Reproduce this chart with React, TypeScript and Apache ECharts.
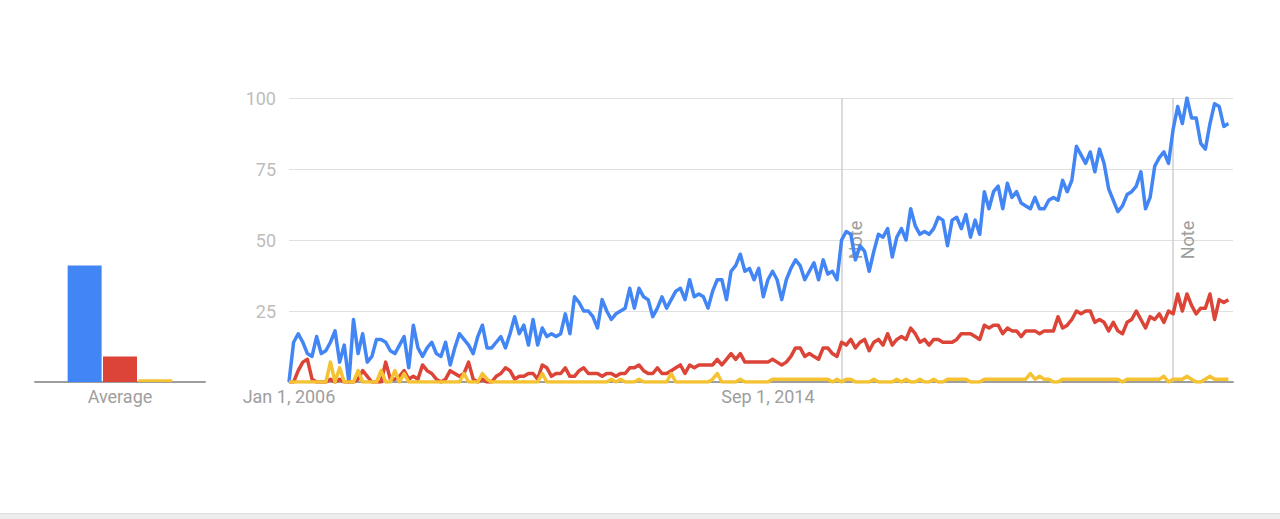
import React, { useEffect, useRef } from 'react';
import * as echarts from 'echarts';

// monthly interest, Jan 2006 .. Jan 2023 (index = months since Jan 2006)
const blueSeries = [
  0, 14, 17, 14, 10, 9, 16, 10, 11, 14,
  18, 7, 13, 0, 22, 10, 17, 7, 9, 15,
  15, 14, 11, 10, 13, 16, 5, 20, 12, 9,
  12, 14, 10, 9, 14, 6, 12, 17, 15, 13,
  10, 16, 20, 12, 12, 14, 16, 12, 17, 23,
  17, 20, 13, 22, 13, 19, 16, 17, 16, 17,
  24, 17, 30, 28, 25, 25, 23, 19, 29, 25,
  22, 24, 25, 26, 33, 26, 33, 30, 29, 23,
  26, 30, 26, 29, 32, 33, 29, 36, 30, 31,
  30, 26, 32, 36, 36, 29, 39, 41, 45, 39,
  40, 36, 40, 30, 36, 39, 36, 29, 36, 40,
  43, 41, 36, 39, 42, 36, 43, 38, 39, 36,
  50, 53, 52, 43, 48, 46, 39, 46, 52, 51,
  54, 44, 51, 54, 50, 61, 55, 52, 53, 52,
  54, 58, 57, 48, 57, 58, 54, 59, 51, 57,
  52, 67, 61, 67, 69, 61, 70, 65, 67, 63,
  62, 61, 65, 61, 61, 64, 65, 64, 71, 67,
  71, 83, 80, 77, 81, 74, 82, 77, 68, 64,
  60, 62, 66, 67, 69, 74, 61, 65, 76, 79,
  81, 77, 89, 97, 91, 100, 93, 93, 84, 82,
  91, 98, 97, 90, 91,
];

const redSeries = [
  0, 0, 4, 7, 8, 1, 0, 0, 0, 1,
  0, 1, 0, 0, 0, 1, 4, 2, 0, 0,
  0, 7, 1, 1, 2, 4, 1, 2, 1, 6,
  4, 3, 1, 0, 1, 4, 3, 2, 3, 7,
  1, 0, 1, 0, 0, 2, 3, 5, 4, 1,
  2, 2, 3, 3, 1, 6, 5, 2, 3, 3,
  5, 2, 2, 4, 5, 3, 3, 3, 2, 3,
  3, 2, 3, 3, 5, 5, 6, 4, 3, 3,
  5, 3, 3, 4, 5, 6, 3, 6, 5, 6,
  6, 6, 6, 8, 6, 8, 10, 8, 10, 7,
  7, 7, 7, 7, 7, 8, 7, 6, 7, 9,
  12, 12, 9, 10, 9, 8, 12, 12, 10, 9,
  14, 13, 15, 12, 14, 15, 11, 14, 15, 13,
  17, 13, 15, 16, 15, 19, 17, 14, 15, 13,
  15, 15, 14, 14, 14, 15, 17, 17, 17, 16,
  15, 20, 19, 20, 20, 17, 19, 18, 18, 16,
  18, 18, 18, 17, 18, 18, 18, 23, 19, 20,
  22, 25, 24, 25, 25, 21, 22, 21, 18, 21,
  18, 17, 21, 22, 25, 22, 19, 23, 22, 24,
  21, 25, 24, 31, 25, 31, 27, 24, 26, 26,
  31, 22, 29, 28, 29,
];

const yellowSeries = [
  0, 0, 0, 0, 0, 0, 0, 0, 0, 7,
  0, 5, 0, 0, 0, 4, 0, 0, 0, 0,
  4, 0, 0, 4, 0, 3, 0, 0, 0, 0,
  0, 0, 0, 0, 0, 0, 0, 0, 3, 0,
  0, 0, 3, 1, 0, 0, 0, 0, 0, 0,
  0, 0, 0, 0, 0, 3, 0, 0, 0, 0,
  0, 0, 0, 0, 0, 0, 0, 0, 0, 0,
  1, 0, 1, 0, 0, 0, 1, 0, 0, 0,
  0, 0, 0, 3, 0, 0, 0, 0, 0, 0,
  0, 0, 1, 3, 0, 0, 0, 0, 1, 0,
  0, 0, 0, 0, 0, 1, 1, 1, 1, 1,
  1, 1, 1, 1, 1, 1, 1, 1, 0, 1,
  0, 1, 1, 0, 0, 0, 0, 1, 0, 0,
  0, 0, 1, 0, 1, 0, 0, 1, 0, 0,
  1, 0, 0, 1, 1, 1, 1, 1, 0, 0,
  0, 1, 1, 1, 1, 1, 1, 1, 1, 1,
  1, 3, 1, 2, 1, 1, 0, 0, 1, 1,
  1, 1, 1, 1, 1, 1, 1, 1, 1, 1,
  1, 0, 1, 1, 1, 1, 1, 1, 1, 1,
  2, 0, 1, 1, 1, 2, 1, 0, 0, 1,
  2, 1, 1, 1, 1,
];

const averages = [41, 9, 1];
const seriesColors = ['#4285f4', '#db4437', '#f5c232'];

// x tick labels keyed by month index
const xTickLabels: Record<number, string> = { 0: 'Jan 1, 2006', 104: 'Sep 1, 2014' };
const noteMonths = [120, 192];

const FONT = 'Roboto, "Noto Sans", sans-serif';

const App: React.FC = () => {
  const chartRef = useRef<HTMLDivElement>(null);

  useEffect(() => {
    document.body.style.margin = '0';
    if (!chartRef.current) return;
    const chart = echarts.init(chartRef.current, undefined, { renderer: 'svg' });

    const lineSeries = [blueSeries, redSeries, yellowSeries].map((values, k) => ({
      type: 'line',
      xAxisIndex: 0,
      yAxisIndex: 0,
      data: values.map((v, i) => [i, v]),
      symbol: 'none',
      lineStyle: { width: 3.5, color: seriesColors[k], join: 'round' },
      z: 3 + k,
      ...(k === 0
        ? {
            markLine: {
              silent: true,
              symbol: ['none', 'none'],
              lineStyle: { color: '#cfcfcf', width: 1.5, type: 'solid' },
              label: {
                show: true,
                formatter: 'Note',
                position: 'insideMiddleBottom',
                color: '#9e9e9e',
                fontSize: 18,
                fontFamily: FONT,
                distance: 5,
              },
              data: noteMonths.map((m) => ({ xAxis: m })),
              z: 1,
            },
          }
        : {}),
    }));

    const barSeries = averages.map((v, k) => ({
      type: 'bar',
      xAxisIndex: 1,
      yAxisIndex: 1,
      data: [v],
      barWidth: 34,
      barGap: '4%',
      itemStyle: { color: seriesColors[k] },
    }));

    chart.setOption({
      animation: false,
      textStyle: { fontFamily: FONT },
      grid: [
        { left: 289, top: 98, width: 944, height: 284 },
        { left: 35, top: 98, width: 170, height: 284 },
      ],
      xAxis: [
        {
          type: 'value',
          gridIndex: 0,
          min: 0,
          max: 205,
          interval: 104,
          axisLine: { show: true, lineStyle: { color: '#9e9e9e', width: 2 } },
          axisTick: { show: false },
          splitLine: { show: false },
          axisLabel: {
            color: '#9e9e9e',
            fontSize: 18,
            margin: 5,
            showMaxLabel: false,
            formatter: (v: number) => xTickLabels[v] ?? '',
          },
        },
        {
          type: 'category',
          gridIndex: 1,
          data: ['Average'],
          axisLine: { show: true, lineStyle: { color: '#9e9e9e', width: 2 } },
          axisTick: { show: false },
          axisLabel: { color: '#9e9e9e', fontSize: 18, margin: 5 },
        },
      ],
      yAxis: [
        {
          type: 'value',
          gridIndex: 0,
          min: 0,
          max: 100,
          interval: 25,
          axisLine: { show: false },
          axisTick: { show: false },
          axisLabel: { color: '#bdbdbd', fontSize: 18, margin: 13, showMinLabel: false },
          splitLine: { lineStyle: { color: '#e0e0e0', width: 1 } },
        },
        {
          type: 'value',
          gridIndex: 1,
          min: 0,
          max: 100,
          show: false,
        },
      ],
      series: [...lineSeries, ...barSeries],
    });

    return () => {
      chart.dispose();
    };
  }, []);

  return (
    <div style={{ position: 'relative', width: 1280, height: 519, background: '#fff' }}>
      <div ref={chartRef} style={{ width: 1280, height: 513 }} />
      <div
        style={{
          position: 'absolute',
          left: 0,
          top: 513,
          width: 1280,
          height: 6,
          background: '#ececec',
          borderTop: '1px solid #dedede',
          boxSizing: 'border-box',
        }}
      />
    </div>
  );
};

export default App;
